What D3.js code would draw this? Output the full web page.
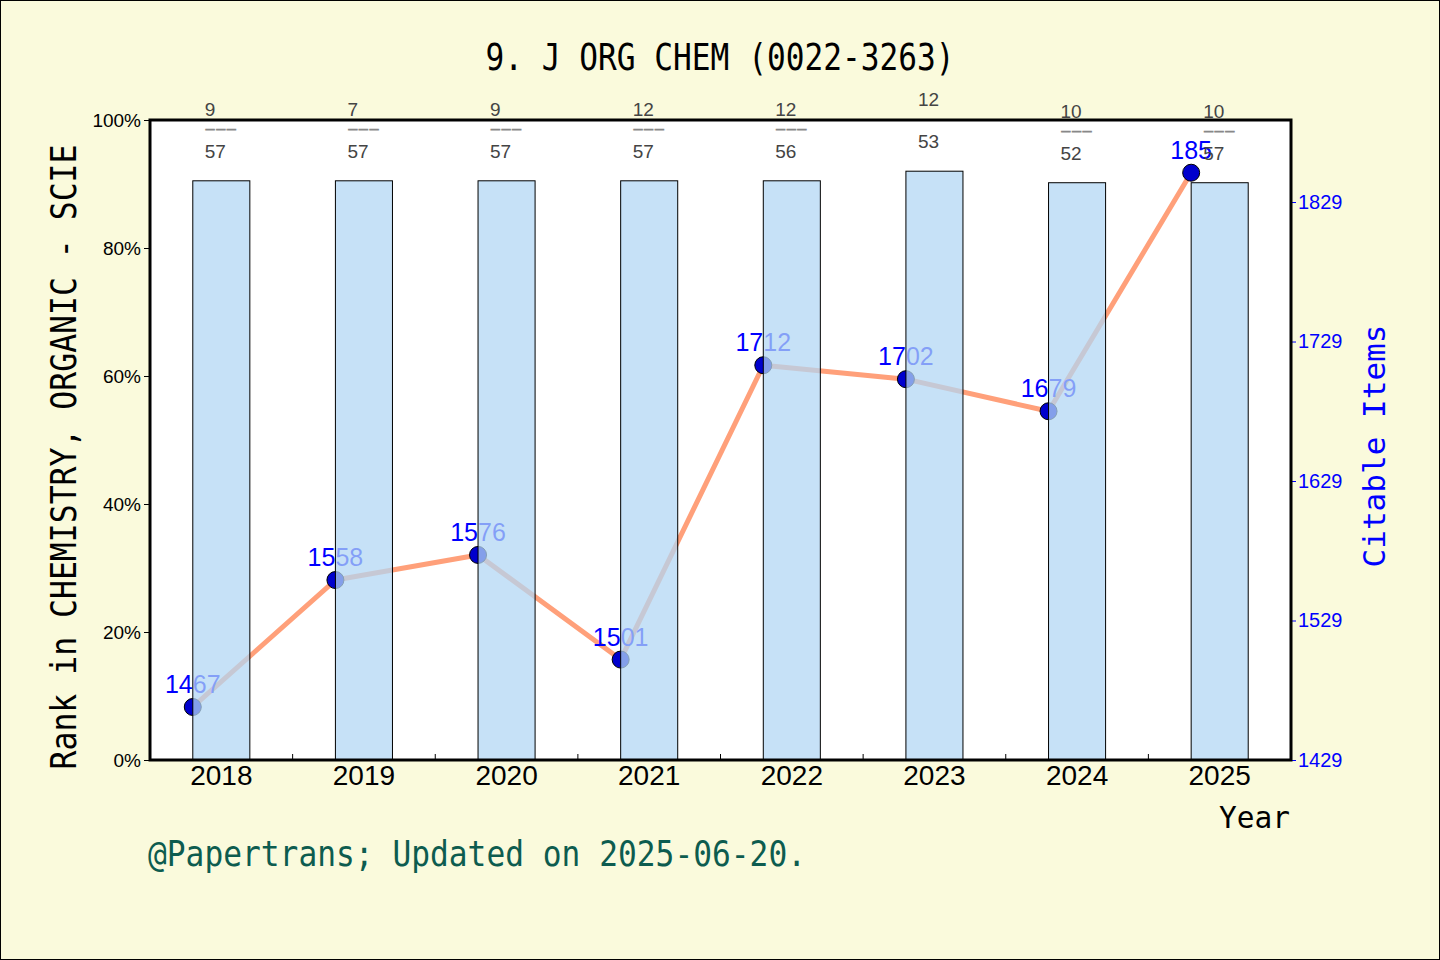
<!DOCTYPE html>
<html>
<head>
<meta charset="utf-8">
<script src="https://cdn.jsdelivr.net/npm/d3@7"></script>
<style>
  body { margin: 0; background: #fff; }
  svg { display: block; }
</style>
</head>
<body>
<div class="canvas"></div>
<script>
// data
const years = ['2018', '2019', '2020', '2021', '2022', '2023', '2024', '2025'];
const barPct = [90.5, 90.5, 90.5, 90.5, 90.5, 92.0, 90.2, 90.2];
const citable = [1467, 1558, 1576, 1501, 1712, 1702, 1679, 1850];
const citLabels = ['1467', '1558', '1576', '1501', '1712', '1702', '1679', '185'];
const rankNum = [9, 7, 9, 12, 12, 12, 10, 10];
const rankDen = [57, 57, 57, 57, 56, 53, 52, 57];
const showDash = [true, true, true, true, true, false, true, true];
const leftTicks = [0, 20, 40, 60, 80, 100];
const rightTicks = [1429, 1529, 1629, 1729, 1829];

const W = 1440, H = 960;
const margin = {top: 120, right: 149, bottom: 200, left: 150};
const gw = W - margin.left - margin.right;
const gh = H - margin.top - margin.bottom;

const mono = '"DejaVu Sans Mono", monospace';
const sans = '"Liberation Sans", Arial, sans-serif';

const svg = d3.select('.canvas')
  .append('svg')
    .attr('width', W)
    .attr('height', H);

// background + outer border
svg.append('rect')
  .attr('x', 0.5).attr('y', 0.5)
  .attr('width', W - 1).attr('height', H - 1)
  .attr('fill', '#fafadc')
  .attr('stroke', '#000');

const graph = svg.append('g')
  .attr('transform', `translate(${margin.left}, ${margin.top})`);

graph.append('rect')
  .attr('width', gw).attr('height', gh)
  .attr('fill', '#fff');

// scales
const x = d3.scaleBand().domain(years).range([0, gw]).padding(0);
const y = d3.scaleLinear().domain([0, 100]).range([gh, 0]);
const y2 = d3.scaleLinear().domain([1429, 1887.8]).range([gh, 0]);

const barW = x.bandwidth() * 0.4;
const barX = d => x(d) + x.bandwidth() / 2 - barW / 2;

const pts = years.map((yr, i) => ({yr, v: citable[i], lab: citLabels[i]}));

// citable items line (drawn under the bars)
const line = d3.line()
  .x(d => barX(d.yr))
  .y(d => y2(d.v));

graph.append('path')
  .datum(pts)
  .attr('d', line)
  .attr('fill', 'none')
  .attr('stroke', '#ffa07a')
  .attr('stroke-width', 5)
  .attr('stroke-linejoin', 'round');

graph.selectAll('circle.pt')
  .data(pts)
  .enter()
  .append('circle')
    .attr('class', 'pt')
    .attr('cx', d => barX(d.yr))
    .attr('cy', d => y2(d.v))
    .attr('r', 8.5)
    .attr('fill', '#0000cd')
    .attr('stroke', '#000')
    .attr('stroke-width', 1);

graph.selectAll('text.pt')
  .data(pts)
  .enter()
  .append('text')
    .attr('class', 'pt')
    .attr('x', d => barX(d.yr))
    .attr('y', d => y2(d.v) - 14)
    .attr('text-anchor', 'middle')
    .attr('font-family', sans)
    .attr('font-size', 25)
    .attr('fill', '#0000ff')
    .text(d => d.lab);

// bars on top, semi transparent
const bars = years.map((yr, i) => ({yr, v: barPct[i], num: rankNum[i], den: rankDen[i], dash: showDash[i]}));

graph.selectAll('rect.bar')
  .data(bars)
  .enter()
  .append('rect')
    .attr('class', 'bar')
    .attr('x', d => barX(d.yr))
    .attr('y', d => y(d.v))
    .attr('width', barW)
    .attr('height', d => gh - y(d.v))
    .attr('fill', 'rgb(178,214,244)')
    .attr('fill-opacity', 0.74)
    .attr('stroke', '#000')
    .attr('stroke-width', 1);

// rank labels above bars
const rk = graph.selectAll('g.rank')
  .data(bars)
  .enter()
  .append('g')
    .attr('class', 'rank')
    .attr('transform', d => `translate(${barX(d.yr) + 12}, ${y(d.v)})`)
    .attr('font-family', sans)
    .attr('font-size', 19);

rk.append('text').attr('y', -65).attr('fill', '#444').text(d => d.num);
rk.filter(d => d.dash).append('text')
  .attr('y', -48)
  .attr('fill', '#888')
  .attr('stroke', '#888')
  .attr('stroke-width', 0.7)
  .attr('font-size', 12)
  .attr('textLength', 32).attr('lengthAdjust', 'spacingAndGlyphs')
  .text('---');
rk.append('text').attr('y', -23).attr('fill', '#444').text(d => d.den);

// axes
const yAxis = d3.axisLeft(y).tickValues(leftTicks).tickSize(6).tickPadding(3).tickFormat(d => d + '%');
const yAxisGroup = graph.append('g').call(yAxis);
yAxisGroup.select('.domain').remove();
yAxisGroup.selectAll('text').attr('font-family', sans).attr('font-size', 19).attr('fill', '#000');

const y2Axis = d3.axisRight(y2).tickValues(rightTicks).tickSize(5).tickPadding(2).tickFormat(d3.format('d'));
const y2AxisGroup = graph.append('g').attr('transform', `translate(${gw}, 0)`).call(y2Axis);
y2AxisGroup.select('.domain').remove();
y2AxisGroup.selectAll('line').attr('stroke', '#0000ff');
y2AxisGroup.selectAll('text').attr('font-family', sans).attr('font-size', 20).attr('fill', '#0000ff');

const xAxis = d3.axisBottom(x).tickSize(0).tickPadding(5);
const xAxisGroup = graph.append('g').attr('transform', `translate(0, ${gh})`).call(xAxis);
xAxisGroup.select('.domain').remove();
xAxisGroup.selectAll('text').attr('font-family', sans).attr('font-size', 28).attr('fill', '#000');

// inward ticks on band boundaries
graph.selectAll('line.bt')
  .data(years.slice(1))
  .enter()
  .append('line')
    .attr('class', 'bt')
    .attr('x1', d => x(d)).attr('x2', d => x(d))
    .attr('y1', gh).attr('y2', gh - 6)
    .attr('stroke', '#000');

// frame
graph.append('rect')
  .attr('width', gw).attr('height', gh)
  .attr('fill', 'none')
  .attr('stroke', '#000')
  .attr('stroke-width', 3);

// texts
svg.append('text')
  .attr('x', 720).attr('y', 70)
  .attr('text-anchor', 'middle')
  .attr('font-family', mono).attr('font-size', 38)
  .attr('textLength', 469).attr('lengthAdjust', 'spacingAndGlyphs')
  .text('9. J ORG CHEM (0022-3263)');

svg.append('text')
  .attr('transform', 'translate(76, 457) rotate(-90)')
  .attr('text-anchor', 'middle')
  .attr('font-family', mono).attr('font-size', 36)
  .attr('textLength', 625).attr('lengthAdjust', 'spacingAndGlyphs')
  .text('Rank in CHEMISTRY, ORGANIC - SCIE');

svg.append('text')
  .attr('transform', 'translate(1385, 446) rotate(-90)')
  .attr('text-anchor', 'middle')
  .attr('font-family', mono).attr('font-size', 31)
  .attr('textLength', 243).attr('lengthAdjust', 'spacingAndGlyphs')
  .attr('fill', '#0000ff')
  .text('Citable Items');

svg.append('text')
  .attr('x', 1290).attr('y', 828)
  .attr('text-anchor', 'end')
  .attr('font-family', mono).attr('font-size', 30)
  .attr('textLength', 71).attr('lengthAdjust', 'spacingAndGlyphs')
  .text('Year');

svg.append('text')
  .attr('x', 148).attr('y', 866)
  .attr('font-family', mono).attr('font-size', 36)
  .attr('textLength', 658).attr('lengthAdjust', 'spacingAndGlyphs')
  .attr('fill', '#0d5c4f')
  .text('@Papertrans; Updated on 2025-06-20.');
</script>
</body>
</html>
